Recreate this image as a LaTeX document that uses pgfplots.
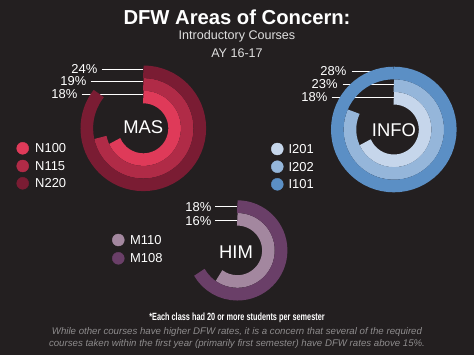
\documentclass[border=0pt]{standalone}
\usepackage{pgfplots}
\pgfplotsset{compat=1.18}
\usepackage{fontspec}
\setmainfont{Liberation Sans}
\definecolor{bg}{HTML}{231F20}
\definecolor{masA}{HTML}{DF3A59}
\definecolor{masB}{HTML}{B02B47}
\definecolor{masC}{HTML}{7A1C33}
\definecolor{infA}{HTML}{C6D6EB}
\definecolor{infB}{HTML}{95B6DA}
\definecolor{infC}{HTML}{5B8FC5}
\definecolor{himA}{HTML}{A3879F}
\definecolor{himB}{HTML}{6A3F68}
\definecolor{foot}{HTML}{8E8C8D}

% ring drawn at the data point: radius \ringr (bp), sweep \ringang (deg) clockwise from 12 o'clock
\pgfdeclareplotmark{ring}{%
  \pgfmathsetmacro\ringend{90-\ringang}%
  \pgfpathmoveto{\pgfpointpolar{90}{\ringr bp}}%
  \pgfpatharc{90}{\ringend}{\ringr bp}%
  \pgfusepathqstroke}

\pgfplotsset{
  ringplot/.style={only marks, mark=ring, mark options={line width=12.6bp},
    visualization depends on={value \thisrow{r}\as\ringr},
    visualization depends on={value \thisrow{ang}\as\ringang}},
  leader/.style={white, line width=0.8bp, mark=none},
  dot/.style={only marks, mark=*, mark size=6bp},
}

\begin{document}
\begin{tikzpicture}
\begin{axis}[
  x=1bp, y=1bp, y dir=reverse,
  xmin=0, xmax=474, ymin=0, ymax=355,
  axis background/.style={fill=bg},
  axis line style={draw=none},
  xtick=\empty, ytick=\empty,
  clip=false,
]
% ---------------- MAS (pct: N100 18, N115 19, N220 24)
\addplot[ringplot, color=masA] table {
x y r ang pct
143.3 128.3 31.3 246 18
};
\addplot[ringplot, color=masB] table {
x y r ang pct
143.3 128.3 43.9 258 19
};
\addplot[ringplot, color=masC] table {
x y r ang pct
143.3 128.3 56.5 308 24
};
% ---------------- INFO (pct: I201 18, I202 23, I101 28)
\addplot[ringplot, color=infA] table {
x y r ang pct
393.8 129.5 31.3 246 18
};
\addplot[ringplot, color=infB] table {
x y r ang pct
393.8 129.5 43.9 294 23
};
\addplot[ringplot, color=infC] table {
x y r ang pct
393.8 129.5 56.5 360 28
};
% ---------------- HIM (pct: M110 16, M108 18)
\addplot[ringplot, color=himA] table {
x y r ang pct
237.3 250.4 31.1 216 16
};
\addplot[ringplot, color=himB] table {
x y r ang pct
237.3 250.4 43.8 240 18
};

% leader lines
\addplot[leader] coordinates {(101.7,69) (143.3,69)};
\addplot[leader] coordinates {(90.7,81.5) (143.3,81.5)};
\addplot[leader] coordinates {(81.7,94.3) (143.3,94.3)};
\addplot[leader] coordinates {(351.7,71) (393.8,71)};
\addplot[leader] coordinates {(342.7,84.3) (393.8,84.3)};
\addplot[leader] coordinates {(331.7,97.3) (393.8,97.3)};
\addplot[leader] coordinates {(215,206.7) (237.3,206.7)};
\addplot[leader] coordinates {(215,220.7) (237.3,220.7)};

% legend dots
\addplot[dot, color=masA] coordinates {(22.7,148.3)};
\addplot[dot, color=masB] coordinates {(22.7,166)};
\addplot[dot, color=masC] coordinates {(22.7,183.3)};
\addplot[dot, color=infA] coordinates {(277.3,149)};
\addplot[dot, color=infB] coordinates {(277.3,166.7)};
\addplot[dot, color=infC] coordinates {(277.3,184.3)};
\addplot[dot, color=himA] coordinates {(118.3,240)};
\addplot[dot, color=himB] coordinates {(118.3,258.3)};

% texts
\tikzset{lbl/.style={text=white, inner sep=0pt, font=\fontsize{13}{15}\selectfont}}
\node[lbl, anchor=east] at (axis cs:97.5,69) {24\%};
\node[lbl, anchor=east] at (axis cs:86.5,81.5) {19\%};
\node[lbl, anchor=east] at (axis cs:77.5,94.3) {18\%};
\node[lbl, anchor=east] at (axis cs:346.5,71) {28\%};
\node[lbl, anchor=east] at (axis cs:337.8,84.3) {23\%};
\node[lbl, anchor=east] at (axis cs:327.5,97.3) {18\%};
\node[lbl, anchor=east] at (axis cs:211.5,206.7) {18\%};
\node[lbl, anchor=east] at (axis cs:211.5,220.7) {16\%};

\node[lbl, anchor=west] at (axis cs:35,148.3) {N100};
\node[lbl, anchor=west] at (axis cs:35,166) {N115};
\node[lbl, anchor=west] at (axis cs:35,183.3) {N220};
\node[lbl, anchor=west] at (axis cs:288.3,149) {I201};
\node[lbl, anchor=west] at (axis cs:288.3,166.7) {I202};
\node[lbl, anchor=west] at (axis cs:288.3,184.3) {I101};
\node[lbl, anchor=west] at (axis cs:130,240) {M110};
\node[lbl, anchor=west] at (axis cs:130,258.3) {M108};

\tikzset{big/.style={text=white, inner sep=0pt, font=\fontsize{18.5}{20}\selectfont}}
\node[big] at (axis cs:143.3,127) {MAS};
\node[big] at (axis cs:394,130) {INFO};
\node[big] at (axis cs:236,251.7) {HIM};

\node[text=white, inner sep=0pt, font=\bfseries\fontsize{20.3}{24}\selectfont] at (axis cs:237,17.3) {DFW Areas of Concern:};
\node[text=white!88!black, inner sep=0pt, font=\fontsize{12.6}{14}\selectfont] at (axis cs:237,36.7) {Introductory Courses};
\node[text=white!88!black, inner sep=0pt, font=\fontsize{12.6}{14}\selectfont] at (axis cs:237,52.7) {AY 16-17};

\node[text=white, inner sep=0pt, font=\bfseries\fontsize{10.5}{12}\selectfont] at (axis cs:237,317.5) {\scalebox{0.70}[1]{*Each class had 20 or more students per semester}};
\node[text=foot, inner sep=0pt, font=\itshape\fontsize{9.7}{11}\selectfont] at (axis cs:237,331.5) {While other courses have higher DFW rates, it is a concern that several of the required};
\node[text=foot, inner sep=0pt, font=\itshape\fontsize{9.7}{11}\selectfont] at (axis cs:237,343.5) {courses taken within the first year (primarily first semester) have DFW rates above 15\%.};
\end{axis}
\end{tikzpicture}
\end{document}
